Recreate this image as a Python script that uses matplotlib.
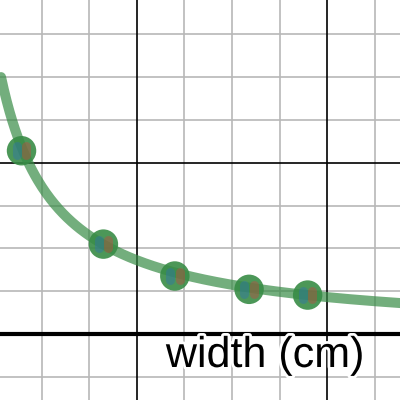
import numpy as np
import matplotlib.pyplot as plt
import matplotlib.patheffects as pe

# measured points (grid units)
width_cm = [1.58, 3.30, 4.80, 6.36, 7.59]
value = [4.28, 2.10, 1.355, 1.044, 0.91]
# fitted curve y = k / x
k_fit = 6.9

green = '#388c46'
blue = '#2d70b3'
red = '#c74440'


def main():
    fig = plt.figure(figsize=(4, 4), dpi=100)
    ax = fig.add_axes([0, 0, 1, 1])
    ax.set_xlim(1.128, 9.53)
    ax.set_ylim(-1.54, 7.80)
    ax.axis('off')

    # grid
    for gx in range(2, 10):
        if gx % 4 == 0:
            ax.axvline(gx, color='black', lw=1.2, zorder=1)
        else:
            ax.axvline(gx, color='#b8b8b8', lw=1.2, zorder=0)
    for gy in range(-1, 8):
        if gy == 0:
            ax.axhline(gy, color='black', lw=3, zorder=1)
        elif gy % 4 == 0:
            ax.axhline(gy, color='black', lw=1.2, zorder=1)
        else:
            ax.axhline(gy, color='#b8b8b8', lw=1.2, zorder=0)

    xs = np.linspace(1.15, 10, 300)
    ax.plot(xs, k_fit / xs, color=green, alpha=0.7, lw=7.2,
            solid_capstyle='round', zorder=2)

    ax.scatter(width_cm, value, s=450, color=green, alpha=0.9,
               edgecolors='none', zorder=3)
    dx = 0.1
    dy = 0.1
    for x, y in zip(width_cm, value):
        ax.plot([x - dx, x - dx], [y - dy, y + dy], color=blue, alpha=0.4,
                lw=6.5, solid_capstyle='round', zorder=4)
        ax.plot([x + dx, x + dx], [y - dy, y + dy], color=red, alpha=0.4,
                lw=6.5, solid_capstyle='round', zorder=4)

    ax.text(265, 33, 'width (cm)', transform=None, fontsize=31,
            family='Liberation Sans', ha='center', va='baseline',
            zorder=5,
            path_effects=[pe.withStroke(linewidth=4, foreground='white')])
    fig.savefig('out.png', dpi=100)


if __name__ == '__main__':
    main()
